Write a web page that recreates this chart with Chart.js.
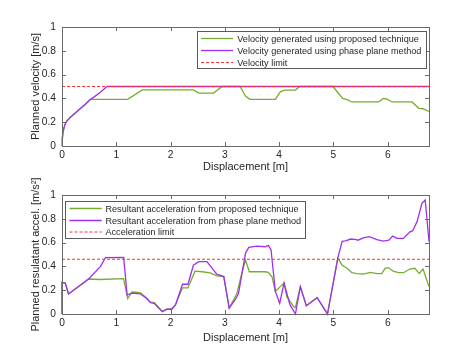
<!DOCTYPE html>
<html><head><meta charset="utf-8">
<script src="https://cdn.jsdelivr.net/npm/chart.js@4"></script>
<style>
html,body{margin:0;padding:0;background:#fff;}
#wrap{position:relative;width:474px;height:355px;overflow:hidden;background:#fff;}
canvas{position:absolute;left:0;}
#c1{top:0;} #c2{top:177px;}
</style></head><body>
<div id="wrap"><canvas id="c1" width="474" height="177"></canvas><canvas id="c2" width="474" height="178"></canvas></div>
<script>
// ---------- data ----------
const xMax = 6.76;
const xTickValues = [0, 1, 2, 3, 4, 5, 6];
const yTickValues = [0, 0.2, 0.4, 0.6, 0.8, 1];

const velLabels = ['Velocity generated using proposed technique', 'Velocity generated using phase plane method', 'Velocity limit'];
const accLabels = ['Resultant acceleration from proposed technique', 'Resultant acceleration from phase plane method', 'Acceleration limit'];

const velLimit = 0.5;
const accLimit = 0.46;

const velDispPhase = [0, 0.005, 0.02, 0.05, 0.08, 0.15, 0.25, 0.35, 0.45, 0.52, 0.6, 0.7, 0.83, 6.76];
const velPhase     = [0, 0.06, 0.12, 0.175, 0.205, 0.24, 0.28, 0.32, 0.36, 0.39, 0.415, 0.45, 0.5, 0.5];

const velDispProposed = [0, 0.005, 0.02, 0.05, 0.08, 0.15, 0.25, 0.35, 0.45, 0.52, 1.21, 1.48, 2.42, 2.52, 2.79, 2.95, 3.28, 3.38, 3.46, 3.93, 4.02, 4.10, 4.30, 4.38, 4.99, 5.17, 5.25, 5.34, 5.83, 5.92, 5.98, 6.08, 6.45, 6.57, 6.65, 6.76];
const velProposed     = [0, 0.06, 0.12, 0.175, 0.205, 0.24, 0.28, 0.32, 0.36, 0.392, 0.392, 0.472, 0.472, 0.445, 0.445, 0.5, 0.5, 0.42, 0.392, 0.392, 0.455, 0.47, 0.47, 0.5, 0.5, 0.40, 0.39, 0.37, 0.37, 0.40, 0.395, 0.37, 0.37, 0.317, 0.313, 0.29];

const accDispPhase = [0, 0, 0.06, 0.12, 0.49, 0.71, 0.80, 1.135, 1.20, 1.29, 1.44, 1.56, 1.63, 1.70, 1.78, 1.85, 1.93, 2.02, 2.09, 2.22, 2.32, 2.42, 2.52, 2.67, 2.85, 2.98, 3.08, 3.19, 3.25, 3.38, 3.44, 3.59, 3.74, 3.80, 3.85, 3.93, 4.01, 4.09, 4.20, 4.30, 4.39, 4.50, 4.70, 4.89, 5.08, 5.16, 5.22, 5.32, 5.42, 5.45, 5.55, 5.66, 5.80, 5.92, 6.02, 6.09, 6.17, 6.29, 6.41, 6.46, 6.54, 6.63, 6.69, 6.76];
const accPhase     = [0, 0.266, 0.26, 0.168, 0.294, 0.40, 0.473, 0.475, 0.16, 0.175, 0.17, 0.13, 0.095, 0.09, 0.05, 0.02, 0.04, 0.04, 0.076, 0.25, 0.25, 0.41, 0.44, 0.44, 0.335, 0.315, 0.05, 0.12, 0.17, 0.51, 0.56, 0.57, 0.565, 0.577, 0.54, 0.19, 0.09, 0.26, 0.076, 0.0, 0.23, 0.07, 0.137, 0.0, 0.47, 0.61, 0.615, 0.63, 0.625, 0.62, 0.64, 0.65, 0.625, 0.613, 0.62, 0.655, 0.635, 0.635, 0.69, 0.70, 0.776, 0.93, 0.958, 0.61];

const accDispProposed = [0, 0, 0.06, 0.12, 0.49, 0.71, 1.135, 1.21, 1.29, 1.44, 1.56, 1.63, 1.70, 1.78, 1.85, 1.93, 2.02, 2.09, 2.22, 2.32, 2.45, 2.58, 2.73, 2.85, 2.98, 3.08, 3.22, 3.31, 3.38, 3.45, 3.74, 3.80, 3.87, 3.93, 4.02, 4.09, 4.14, 4.27, 4.30, 4.39, 4.50, 4.70, 4.89, 5.08, 5.16, 5.25, 5.34, 5.43, 5.55, 5.68, 5.80, 5.89, 5.95, 6.01, 6.10, 6.20, 6.29, 6.41, 6.50, 6.58, 6.65, 6.76];
const accProposed     = [0, 0.266, 0.26, 0.168, 0.294, 0.29, 0.297, 0.13, 0.185, 0.18, 0.135, 0.10, 0.095, 0.055, 0.022, 0.04, 0.042, 0.076, 0.22, 0.22, 0.36, 0.355, 0.345, 0.32, 0.315, 0.05, 0.17, 0.34, 0.454, 0.355, 0.355, 0.35, 0.31, 0.19, 0.23, 0.26, 0.146, 0.06, 0.055, 0.23, 0.07, 0.137, 0.0, 0.47, 0.41, 0.385, 0.347, 0.34, 0.336, 0.35, 0.34, 0.34, 0.384, 0.39, 0.36, 0.347, 0.347, 0.378, 0.384, 0.34, 0.378, 0.23];

// ---------- styles ----------
const FONT = "'Liberation Sans', Arial, Helvetica, sans-serif";
const TEXT = '#262626';
const AXIS = '#6a6a6a';
const GREEN = '#77AC30';
const PURPLE = '#A030F0';
const RED = '#FF3030';

const pts = (xs, ys) => xs.map((x, i) => ({x: x, y: ys[i]}));

const frameTicks = {
  id: 'frameTicks',
  afterDraw(chart) {
    const {ctx, chartArea: a, scales: {x, y}} = chart;
    ctx.save();
    ctx.strokeStyle = AXIS;
    ctx.lineWidth = 1;
    ctx.strokeRect(a.left + 0.5, a.top + 0.5, a.right - a.left, a.bottom - a.top);
    const L = 4;
    ctx.beginPath();
    x.ticks.forEach(t => {
      const px = Math.round(x.getPixelForValue(t.value)) + 0.5;
      ctx.moveTo(px, a.bottom); ctx.lineTo(px, a.bottom - L);
      ctx.moveTo(px, a.top); ctx.lineTo(px, a.top + L);
    });
    y.ticks.forEach(t => {
      const py = Math.round(y.getPixelForValue(t.value)) + 0.5;
      ctx.moveTo(a.left, py); ctx.lineTo(a.left + L, py);
      ctx.moveTo(a.right, py); ctx.lineTo(a.right - L, py);
    });
    ctx.stroke();
    ctx.restore();
  }
};

const boxLegend = {
  id: 'boxLegend',
  afterDraw(chart, args, o) {
    if (!o || !o.w) return;
    const ctx = chart.ctx;
    ctx.save();
    ctx.fillStyle = '#fff';
    ctx.fillRect(o.x, o.y, o.w, o.h);
    ctx.strokeStyle = '#5a5a5a';
    ctx.lineWidth = 1;
    ctx.strokeRect(o.x + 0.5, o.y + 0.5, o.w, o.h);
    chart.data.datasets.forEach((ds, i) => {
      const cy = o.rows[i];
      ctx.strokeStyle = ds.borderColor;
      ctx.lineWidth = ds.borderWidth;
      ctx.setLineDash(ds.borderDash || []);
      ctx.beginPath();
      ctx.moveTo(o.sx1, cy); ctx.lineTo(o.sx2, cy);
      ctx.stroke();
      ctx.setLineDash([]);
      ctx.fillStyle = TEXT;
      ctx.font = '9.1px ' + FONT;
      ctx.textBaseline = 'middle';
      ctx.textAlign = 'left';
      ctx.fillText(ds.label, o.tx, cy + 0.5);
    });
    ctx.restore();
  }
};

function makeChart(id, labels, dsGreen, dsPurple, limit, yTitle, cfg) {
  return new Chart(document.getElementById(id), {
    type: 'line',
    data: {
      datasets: [
        {label: labels[0], data: dsGreen, borderColor: GREEN, borderWidth: 1.3, pointRadius: 0, tension: 0, order: 2, clip: false},
        {label: labels[1], data: dsPurple, borderColor: PURPLE, borderWidth: 1.3, pointRadius: 0, tension: 0, order: 1, clip: false},
        {label: labels[2], data: pts([0, xMax], [limit, limit]), borderColor: RED, borderWidth: 1, borderDash: [3, 2], pointRadius: 0, tension: 0, order: 0, clip: false}
      ]
    },
    options: {
      responsive: false,
      devicePixelRatio: 1,
      animation: false,
      events: [],
      layout: {padding: {left: 0, right: 45, top: cfg.top, bottom: 0}},
      plugins: {
        legend: {display: false},
        tooltip: {enabled: false},
        boxLegend: cfg.legend
      },
      scales: {
        x: {
          type: 'linear', min: 0, max: xMax,
          afterBuildTicks: s => { s.ticks = xTickValues.map(v => ({value: v})); },
          afterFit: s => { s.height = cfg.xh; },
          grid: {display: false, drawTicks: false},
          border: {display: false},
          ticks: {autoSkip: false, maxRotation: 0, padding: 3, color: TEXT, font: {family: FONT, size: 10.2},
                  callback: v => String(v)},
          title: {display: true, text: 'Displacement [m]', color: TEXT, font: {family: FONT, size: 11},
                  padding: {top: 0, bottom: cfg.xtb}}
        },
        y: {
          type: 'linear', min: 0, max: 1,
          afterBuildTicks: s => { s.ticks = yTickValues.map(v => ({value: v})); },
          afterFit: s => { s.width = 62; },
          grid: {display: false, drawTicks: false},
          border: {display: false},
          ticks: {padding: 6, color: TEXT, font: {family: FONT, size: 10.2},
                  callback: v => String(+(+v).toFixed(1))},
          title: {display: true, text: yTitle, color: TEXT, font: {family: FONT, size: 11},
                  padding: {top: 29.4, bottom: 0}}
        }
      }
    },
    plugins: [frameTicks, boxLegend]
  });
}

makeChart('c1', velLabels, pts(velDispProposed, velProposed), pts(velDispPhase, velPhase), velLimit,
  'Planned velocity [m/s]',
  {top: 27, xh: 31, xtb: 3.4,
   legend: {x: 197, y: 31, w: 229, h: 37, rows: [38.5, 50.5, 62.5], sx1: 201, sx2: 233, tx: 237.3}});

makeChart('c2', accLabels, pts(accDispProposed, accProposed), pts(accDispPhase, accPhase), accLimit,
  'Planned resulatant accel. [m/s\u00B2]',
  {top: 18, xh: 41, xtb: 10.4,
   legend: {x: 65, y: 24, w: 240, h: 37, rows: [31.5, 43.5, 55], sx1: 69.5, sx2: 101.7, tx: 105.5}});
</script>
</body></html>
